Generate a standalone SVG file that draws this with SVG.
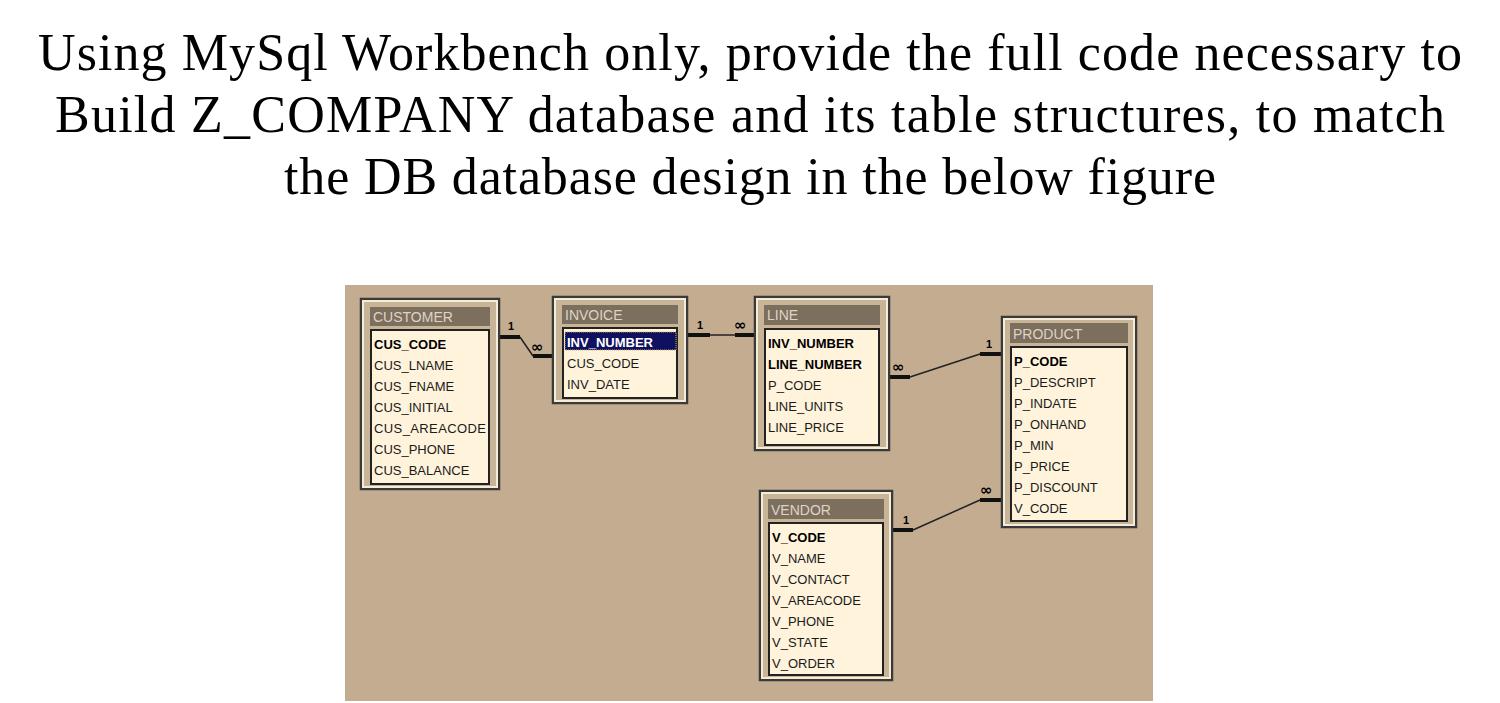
<svg xmlns="http://www.w3.org/2000/svg" width="1500" height="703" viewBox="0 0 1500 703">
<style>
.h{font-family:"Liberation Serif",serif;font-size:52px;fill:#000;text-anchor:middle}
.t{font-family:"Liberation Sans",sans-serif;font-size:14px;fill:#ddd3c6}
.f{font-family:"Liberation Sans",sans-serif;font-size:13px;fill:#1a1a1a}
.b{font-weight:bold;fill:#000}
.o{fill:#c8b597;stroke:#3a3a3a;stroke-width:2.5}
.ol{fill:none;stroke:#f5ecd8;stroke-width:2}
.tb{fill:#7d6f5e}
.l{fill:#fff3dc;stroke:#222;stroke-width:2}
.c{fill:none;stroke:#222;stroke-width:1.5}
.k{stroke:#111;stroke-width:4}
.m{font-family:"Liberation Sans",sans-serif;font-size:11px;font-weight:bold;fill:#000}
.i{font-family:"DejaVu Sans",sans-serif;font-size:15px;font-weight:bold;fill:#000}
</style>
<rect width="1500" height="703" fill="#fff"/>
<text class="h" x="750" y="70" textLength="1424">Using MySql Workbench only, provide the full code necessary to</text>
<text class="h" x="750" y="132" textLength="1390">Build Z_COMPANY database and its table structures, to match</text>
<text class="h" x="750" y="194" textLength="932">the DB database design in the below figure</text>
<rect x="345" y="285" width="808" height="416" fill="#c4ac90"/>
<g id="connectors">
<path class="c" d="M520 337 L533 356"/><line class="k" x1="499" y1="337" x2="520" y2="337"/><line class="k" x1="533" y1="356" x2="553" y2="356"/>
<text class="m" x="508" y="330">1</text><text class="i" x="531" y="352">∞</text>
<line class="c" x1="710" y1="335" x2="735" y2="335"/><line class="k" x1="687" y1="335" x2="710" y2="335"/><line class="k" x1="735" y1="335" x2="755" y2="335"/>
<text class="m" x="697" y="329">1</text><text class="i" x="734" y="330">∞</text>
<path class="c" d="M910 377 L980 354"/><line class="k" x1="889" y1="377" x2="910" y2="377"/><line class="k" x1="980" y1="354" x2="1002" y2="354"/>
<text class="i" x="892" y="372">∞</text><text class="m" x="986" y="348">1</text>
<path class="c" d="M913 530 L980 500"/><line class="k" x1="892" y1="530" x2="913" y2="530"/><line class="k" x1="980" y1="500" x2="1002" y2="500"/>
<text class="m" x="903" y="524">1</text><text class="i" x="980" y="495">∞</text>
</g>
<g id="customer">
<rect class="o" x="361" y="299" width="138" height="190"/><rect class="ol" x="363" y="301" width="134" height="186"/>
<rect class="tb" x="370" y="307" width="120" height="19"/><text class="t" x="373" y="322">CUSTOMER</text>
<rect class="l" x="371" y="330" width="118" height="154"/>
<text class="f b" x="374" y="349">CUS_CODE</text><text class="f" x="374" y="370">CUS_LNAME</text><text class="f" x="374" y="391">CUS_FNAME</text><text class="f" x="374" y="412">CUS_INITIAL</text><text class="f" x="374" y="433" textLength="112">CUS_AREACODE</text><text class="f" x="374" y="454">CUS_PHONE</text><text class="f" x="374" y="475">CUS_BALANCE</text>
</g>
<g id="invoice">
<rect class="o" x="553" y="297" width="134" height="106"/><rect class="ol" x="555" y="299" width="130" height="102"/>
<rect class="tb" x="562" y="305" width="116" height="19"/><text class="t" x="565" y="320">INVOICE</text>
<rect class="l" x="563" y="328" width="114" height="70"/>
<rect x="565" y="332" width="111" height="18" fill="#101060" stroke="#c9b060" stroke-dasharray="1 1"/>
<text class="f b" x="567" y="347" style="fill:#fff">INV_NUMBER</text><text class="f" x="567" y="368">CUS_CODE</text><text class="f" x="567" y="389">INV_DATE</text>
</g>
<g id="line">
<rect class="o" x="755" y="297" width="134" height="153"/><rect class="ol" x="757" y="299" width="130" height="149"/>
<rect class="tb" x="764" y="305" width="116" height="20"/><text class="t" x="767" y="320">LINE</text>
<rect class="l" x="765" y="329" width="114" height="116"/>
<text class="f b" x="768" y="348">INV_NUMBER</text><text class="f b" x="768" y="369">LINE_NUMBER</text><text class="f" x="768" y="390">P_CODE</text><text class="f" x="768" y="411">LINE_UNITS</text><text class="f" x="768" y="432">LINE_PRICE</text>
</g>
<g id="product">
<rect class="o" x="1002" y="317" width="134" height="210"/><rect class="ol" x="1004" y="319" width="130" height="206"/>
<rect class="tb" x="1010" y="323" width="118" height="20"/><text class="t" x="1013" y="339">PRODUCT</text>
<rect class="l" x="1011" y="347" width="116" height="174"/>
<text class="f b" x="1014" y="366">P_CODE</text><text class="f" x="1014" y="387">P_DESCRIPT</text><text class="f" x="1014" y="408">P_INDATE</text><text class="f" x="1014" y="429">P_ONHAND</text><text class="f" x="1014" y="450">P_MIN</text><text class="f" x="1014" y="471">P_PRICE</text><text class="f" x="1014" y="492">P_DISCOUNT</text><text class="f" x="1014" y="513">V_CODE</text>
</g>
<g id="vendor">
<rect class="o" x="760" y="491" width="132" height="189"/><rect class="ol" x="762" y="493" width="128" height="185"/>
<rect class="tb" x="768" y="499" width="116" height="20"/><text class="t" x="771" y="515">VENDOR</text>
<rect class="l" x="769" y="523" width="114" height="152"/>
<text class="f b" x="772" y="542">V_CODE</text><text class="f" x="772" y="563">V_NAME</text><text class="f" x="772" y="584">V_CONTACT</text><text class="f" x="772" y="605">V_AREACODE</text><text class="f" x="772" y="626">V_PHONE</text><text class="f" x="772" y="647">V_STATE</text><text class="f" x="772" y="668">V_ORDER</text>
</g>
</svg>
